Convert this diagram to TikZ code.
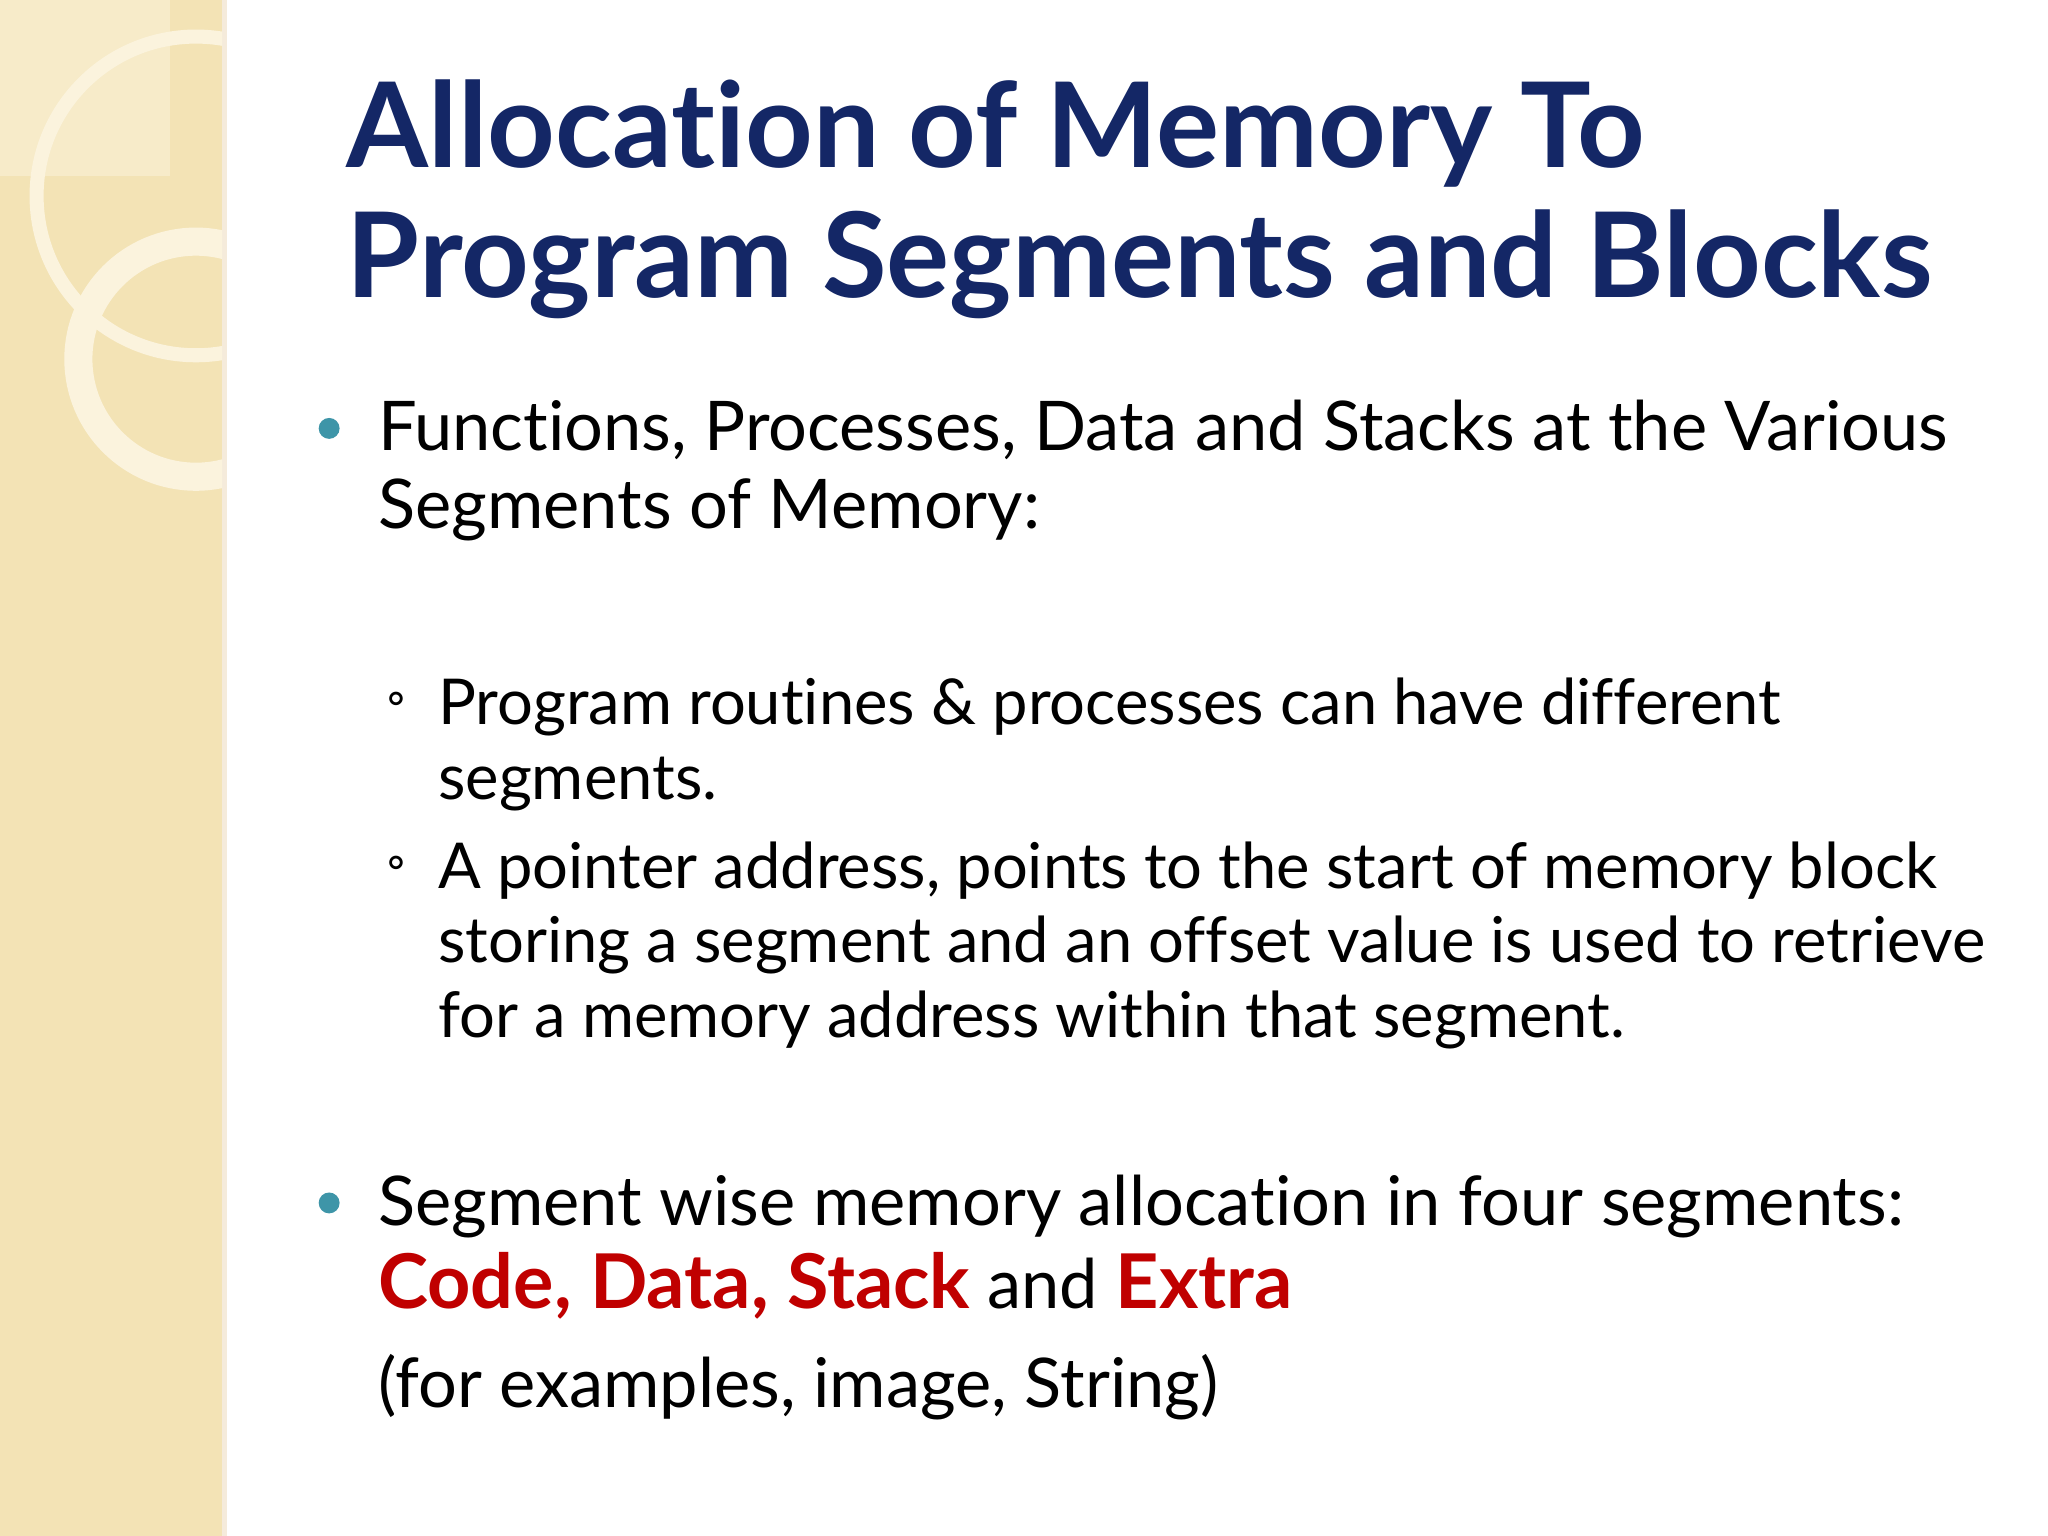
\documentclass[tikz,border=0pt]{standalone}
\usepackage{fontspec}
\setmainfont{Lato}[Ligatures={NoCommon}]
\definecolor{navy}{HTML}{142766}
\definecolor{dred}{HTML}{C00000}
\definecolor{beige}{HTML}{F3E3B5}
\definecolor{ring}{HTML}{FBF3DD}
\definecolor{bul}{HTML}{3E95A8}
\tikzset{
  ttl/.style={anchor=base west,inner sep=0,text=navy,font=\fontsize{33.6}{36}\selectfont\bfseries},
  body/.style={anchor=base west,inner sep=0,font=\fontsize{19.5}{24}\selectfont},
  sub/.style={anchor=base west,inner sep=0,font=\fontsize{18}{22}\selectfont},
}
\newcommand{\redw}[1]{{\color{dred}\fontsize{21.5}{24}\selectfont\bfseries #1}}
\begin{document}
\begin{tikzpicture}[x=0.01306cm,y=-0.01306cm]
\useasboundingbox (0,0) rectangle (1568,1176);
\fill[white] (0,0) rectangle (1568,1176);
\fill[beige] (0,0) rectangle (170,1176);
\fill[beige!60!brown!30] (170,0) rectangle (174,1176);
\begin{scope}
\clip (0,0) rectangle (170,1176);
\draw[ring,line width=4pt] (150,150) circle (122);
\draw[ring,line width=8pt] (150,275) circle (90);
\fill[ring,opacity=.5] (0,0) rectangle (130,135);
\end{scope}
\node[ttl] (t1) at (265,128) {Allocation of Memory To};
\node[ttl] (t2) at (265,228) {Program Segments and Blocks};
\fill[bul] (252,328) circle (8) coordinate (b1);
\node[body] (l1) at (289,345) {Functions, Processes, Data and Stacks at the Various};
\node[body] (l2) at (289,405) {Segments of Memory:};
\node[sub,font=\fontsize{14}{14}\selectfont] (s1) at (295,548) {◦};
\node[sub] (l3) at (335,555) {Program routines \& processes can have different};
\node[sub] (l4) at (335,612) {segments.};
\node[sub,font=\fontsize{14}{14}\selectfont] (s2) at (295,673) {◦};
\node[sub] (l5) at (335,680) {A pointer address, points to the start of memory block};
\node[sub] (l6) at (335,737) {storing a segment and an offset value is used to retrieve};
\node[sub] (l7) at (335,794) {for a memory address within that segment.};
\fill[bul] (252,921) circle (8) coordinate (b2);
\node[body] (l8) at (289,938) {Segment wise memory allocation in four segments:};
\node[body] (l9) at (289,1002) {\redw{Code, Data, Stack} and \redw{Extra}};
\node[body] (l10) at (289,1078) {(for examples, image, String)};
\end{tikzpicture}
\end{document}
